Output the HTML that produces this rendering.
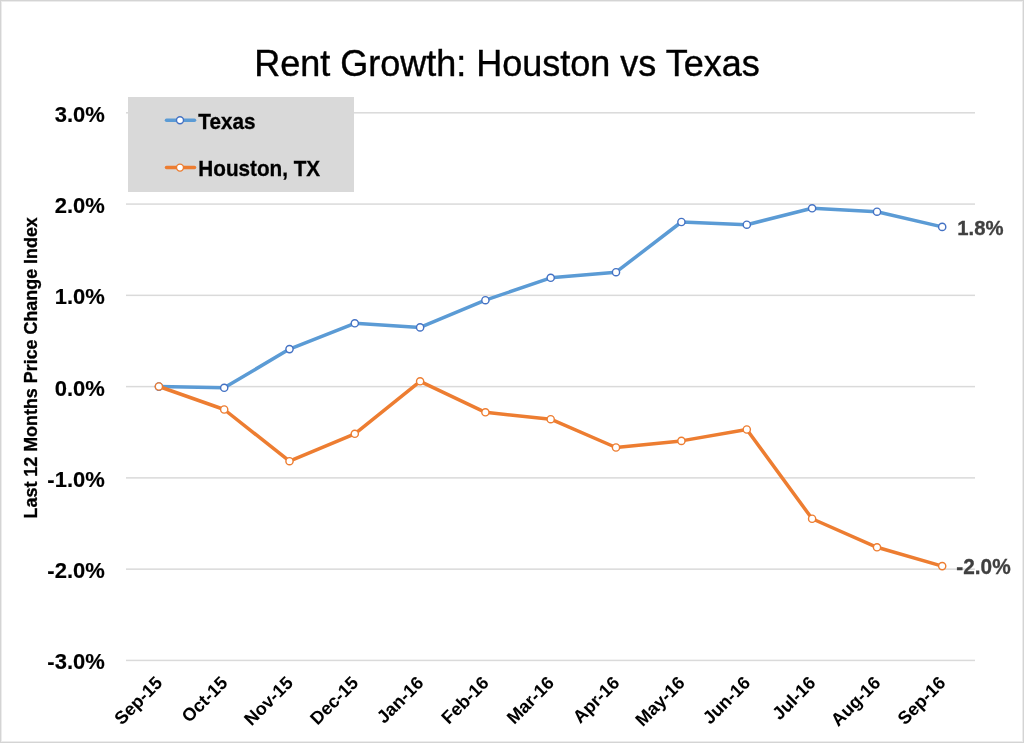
<!DOCTYPE html>
<html><head><meta charset="utf-8"><style>
html,body{margin:0;padding:0;background:#fff;}
body{width:1024px;height:743px;overflow:hidden;position:relative;}
svg{position:absolute;left:0;top:0;will-change:transform;}
text{font-family:"Liberation Sans",sans-serif;}
</style></head><body>
<svg width="1024" height="743" viewBox="0 0 1024 743">
<rect x="0" y="0" width="1024" height="743" fill="#fff"/>
<rect x="0.5" y="0.5" width="1023" height="742" fill="none" stroke="#d4d4d4" stroke-width="1"/>
<rect x="1.5" y="1.5" width="1021" height="740" fill="none" stroke="#ececec" stroke-width="1"/>
<rect x="126" y="112.05" width="849" height="1.5" fill="#dadada"/>
<rect x="126" y="203.32" width="849" height="1.5" fill="#dadada"/>
<rect x="126" y="294.59" width="849" height="1.5" fill="#dadada"/>
<rect x="126" y="385.86" width="849" height="1.5" fill="#dadada"/>
<rect x="126" y="477.13" width="849" height="1.5" fill="#dadada"/>
<rect x="126" y="568.40" width="849" height="1.5" fill="#dadada"/>
<rect x="126" y="659.67" width="849" height="1.5" fill="#dadada"/>
<rect x="128" y="97" width="226" height="95" fill="#d9d9d9"/>
<text x="507" y="76" font-size="36" text-anchor="middle" fill="#000" stroke="#000" stroke-width="0.4">Rent Growth: Houston vs Texas</text>
<text transform="translate(104.8,121.80) scale(1,1.04)" font-size="22.0" font-weight="bold" text-anchor="end" fill="#000" stroke="#000" stroke-width="0.15">3.0%</text>
<text transform="translate(104.8,213.07) scale(1,1.04)" font-size="22.0" font-weight="bold" text-anchor="end" fill="#000" stroke="#000" stroke-width="0.15">2.0%</text>
<text transform="translate(104.8,304.34) scale(1,1.04)" font-size="22.0" font-weight="bold" text-anchor="end" fill="#000" stroke="#000" stroke-width="0.15">1.0%</text>
<text transform="translate(104.8,395.61) scale(1,1.04)" font-size="22.0" font-weight="bold" text-anchor="end" fill="#000" stroke="#000" stroke-width="0.15">0.0%</text>
<text transform="translate(104.8,486.88) scale(1,1.04)" font-size="22.0" font-weight="bold" text-anchor="end" fill="#000" stroke="#000" stroke-width="0.15">-1.0%</text>
<text transform="translate(104.8,578.15) scale(1,1.04)" font-size="22.0" font-weight="bold" text-anchor="end" fill="#000" stroke="#000" stroke-width="0.15">-2.0%</text>
<text transform="translate(104.8,669.42) scale(1,1.04)" font-size="22.0" font-weight="bold" text-anchor="end" fill="#000" stroke="#000" stroke-width="0.15">-3.0%</text>
<text transform="translate(36.8,367.8) rotate(-90)" font-size="17.9" font-weight="bold" text-anchor="middle" fill="#000" stroke="#000" stroke-width="0.3">Last 12 Months Price Change Index</text>
<polyline points="158.90,386.60 224.20,387.80 289.50,349.10 354.80,323.30 420.10,327.40 485.40,300.20 550.70,277.80 616.00,272.20 681.40,222.00 746.80,224.70 812.10,208.30 877.00,211.70 942.20,226.90" fill="none" stroke="#5b9bd5" stroke-width="3.5" stroke-linejoin="round" stroke-linecap="round"/>
<circle cx="158.90" cy="386.60" r="3.6" fill="#fff" stroke="#4472c4" stroke-width="1.4"/>
<circle cx="224.20" cy="387.80" r="3.6" fill="#fff" stroke="#4472c4" stroke-width="1.4"/>
<circle cx="289.50" cy="349.10" r="3.6" fill="#fff" stroke="#4472c4" stroke-width="1.4"/>
<circle cx="354.80" cy="323.30" r="3.6" fill="#fff" stroke="#4472c4" stroke-width="1.4"/>
<circle cx="420.10" cy="327.40" r="3.6" fill="#fff" stroke="#4472c4" stroke-width="1.4"/>
<circle cx="485.40" cy="300.20" r="3.6" fill="#fff" stroke="#4472c4" stroke-width="1.4"/>
<circle cx="550.70" cy="277.80" r="3.6" fill="#fff" stroke="#4472c4" stroke-width="1.4"/>
<circle cx="616.00" cy="272.20" r="3.6" fill="#fff" stroke="#4472c4" stroke-width="1.4"/>
<circle cx="681.40" cy="222.00" r="3.6" fill="#fff" stroke="#4472c4" stroke-width="1.4"/>
<circle cx="746.80" cy="224.70" r="3.6" fill="#fff" stroke="#4472c4" stroke-width="1.4"/>
<circle cx="812.10" cy="208.30" r="3.6" fill="#fff" stroke="#4472c4" stroke-width="1.4"/>
<circle cx="877.00" cy="211.70" r="3.6" fill="#fff" stroke="#4472c4" stroke-width="1.4"/>
<circle cx="942.20" cy="226.90" r="3.6" fill="#fff" stroke="#4472c4" stroke-width="1.4"/>
<polyline points="158.90,386.50 224.20,409.50 289.50,461.20 354.80,433.80 420.10,381.30 485.40,412.30 550.70,419.20 616.00,447.50 681.40,440.90 746.80,429.50 812.10,518.75 877.00,547.30 942.20,566.10" fill="none" stroke="#ed7d31" stroke-width="3.5" stroke-linejoin="round" stroke-linecap="round"/>
<circle cx="158.90" cy="386.50" r="3.6" fill="#fff" stroke="#ed7d31" stroke-width="1.4"/>
<circle cx="224.20" cy="409.50" r="3.6" fill="#fff" stroke="#ed7d31" stroke-width="1.4"/>
<circle cx="289.50" cy="461.20" r="3.6" fill="#fff" stroke="#ed7d31" stroke-width="1.4"/>
<circle cx="354.80" cy="433.80" r="3.6" fill="#fff" stroke="#ed7d31" stroke-width="1.4"/>
<circle cx="420.10" cy="381.30" r="3.6" fill="#fff" stroke="#ed7d31" stroke-width="1.4"/>
<circle cx="485.40" cy="412.30" r="3.6" fill="#fff" stroke="#ed7d31" stroke-width="1.4"/>
<circle cx="550.70" cy="419.20" r="3.6" fill="#fff" stroke="#ed7d31" stroke-width="1.4"/>
<circle cx="616.00" cy="447.50" r="3.6" fill="#fff" stroke="#ed7d31" stroke-width="1.4"/>
<circle cx="681.40" cy="440.90" r="3.6" fill="#fff" stroke="#ed7d31" stroke-width="1.4"/>
<circle cx="746.80" cy="429.50" r="3.6" fill="#fff" stroke="#ed7d31" stroke-width="1.4"/>
<circle cx="812.10" cy="518.75" r="3.6" fill="#fff" stroke="#ed7d31" stroke-width="1.4"/>
<circle cx="877.00" cy="547.30" r="3.6" fill="#fff" stroke="#ed7d31" stroke-width="1.4"/>
<circle cx="942.20" cy="566.10" r="3.6" fill="#fff" stroke="#ed7d31" stroke-width="1.4"/>
<line x1="166.5" y1="120.25" x2="194.5" y2="120.25" stroke="#5b9bd5" stroke-width="3.5" stroke-linecap="round"/>
<circle cx="180" cy="120.25" r="3.5" fill="#fff" stroke="#4472c4" stroke-width="1.4"/>
<text transform="translate(198.3,128.6) scale(1,1.04)" font-size="20.7" font-weight="bold" fill="#000" stroke="#000" stroke-width="0.3">Texas</text>
<line x1="166.5" y1="167.6" x2="194.5" y2="167.6" stroke="#ed7d31" stroke-width="3.5" stroke-linecap="round"/>
<circle cx="180" cy="167.6" r="3.5" fill="#fff" stroke="#ed7d31" stroke-width="1.4"/>
<text transform="translate(198.3,176.2) scale(1,1.04)" font-size="20.7" font-weight="bold" fill="#000" stroke="#000" stroke-width="0.3">Houston, TX</text>
<text transform="translate(957.3,234.8) scale(1,1.04)" font-size="20.3" font-weight="bold" fill="#404040" stroke="#404040" stroke-width="0.3">1.8%</text>
<text transform="translate(956.3,574.1) scale(1,1.04)" font-size="20.8" font-weight="bold" fill="#404040" stroke="#404040" stroke-width="0.3">-2.0%</text>
<text transform="translate(163.40,684) rotate(-45)" font-size="18" font-weight="bold" text-anchor="end" fill="#000" stroke="#000" stroke-width="0.05">Sep-15</text>
<text transform="translate(228.70,684) rotate(-45)" font-size="18" font-weight="bold" text-anchor="end" fill="#000" stroke="#000" stroke-width="0.05">Oct-15</text>
<text transform="translate(294.00,684) rotate(-45)" font-size="18" font-weight="bold" text-anchor="end" fill="#000" stroke="#000" stroke-width="0.05">Nov-15</text>
<text transform="translate(359.30,684) rotate(-45)" font-size="18" font-weight="bold" text-anchor="end" fill="#000" stroke="#000" stroke-width="0.05">Dec-15</text>
<text transform="translate(424.60,684) rotate(-45)" font-size="18" font-weight="bold" text-anchor="end" fill="#000" stroke="#000" stroke-width="0.05">Jan-16</text>
<text transform="translate(489.90,684) rotate(-45)" font-size="18" font-weight="bold" text-anchor="end" fill="#000" stroke="#000" stroke-width="0.05">Feb-16</text>
<text transform="translate(555.20,684) rotate(-45)" font-size="18" font-weight="bold" text-anchor="end" fill="#000" stroke="#000" stroke-width="0.05">Mar-16</text>
<text transform="translate(620.50,684) rotate(-45)" font-size="18" font-weight="bold" text-anchor="end" fill="#000" stroke="#000" stroke-width="0.05">Apr-16</text>
<text transform="translate(685.90,684) rotate(-45)" font-size="18" font-weight="bold" text-anchor="end" fill="#000" stroke="#000" stroke-width="0.05">May-16</text>
<text transform="translate(751.30,684) rotate(-45)" font-size="18" font-weight="bold" text-anchor="end" fill="#000" stroke="#000" stroke-width="0.05">Jun-16</text>
<text transform="translate(816.60,684) rotate(-45)" font-size="18" font-weight="bold" text-anchor="end" fill="#000" stroke="#000" stroke-width="0.05">Jul-16</text>
<text transform="translate(881.50,684) rotate(-45)" font-size="18" font-weight="bold" text-anchor="end" fill="#000" stroke="#000" stroke-width="0.05">Aug-16</text>
<text transform="translate(946.70,684) rotate(-45)" font-size="18" font-weight="bold" text-anchor="end" fill="#000" stroke="#000" stroke-width="0.05">Sep-16</text>
</svg>
</body></html>
